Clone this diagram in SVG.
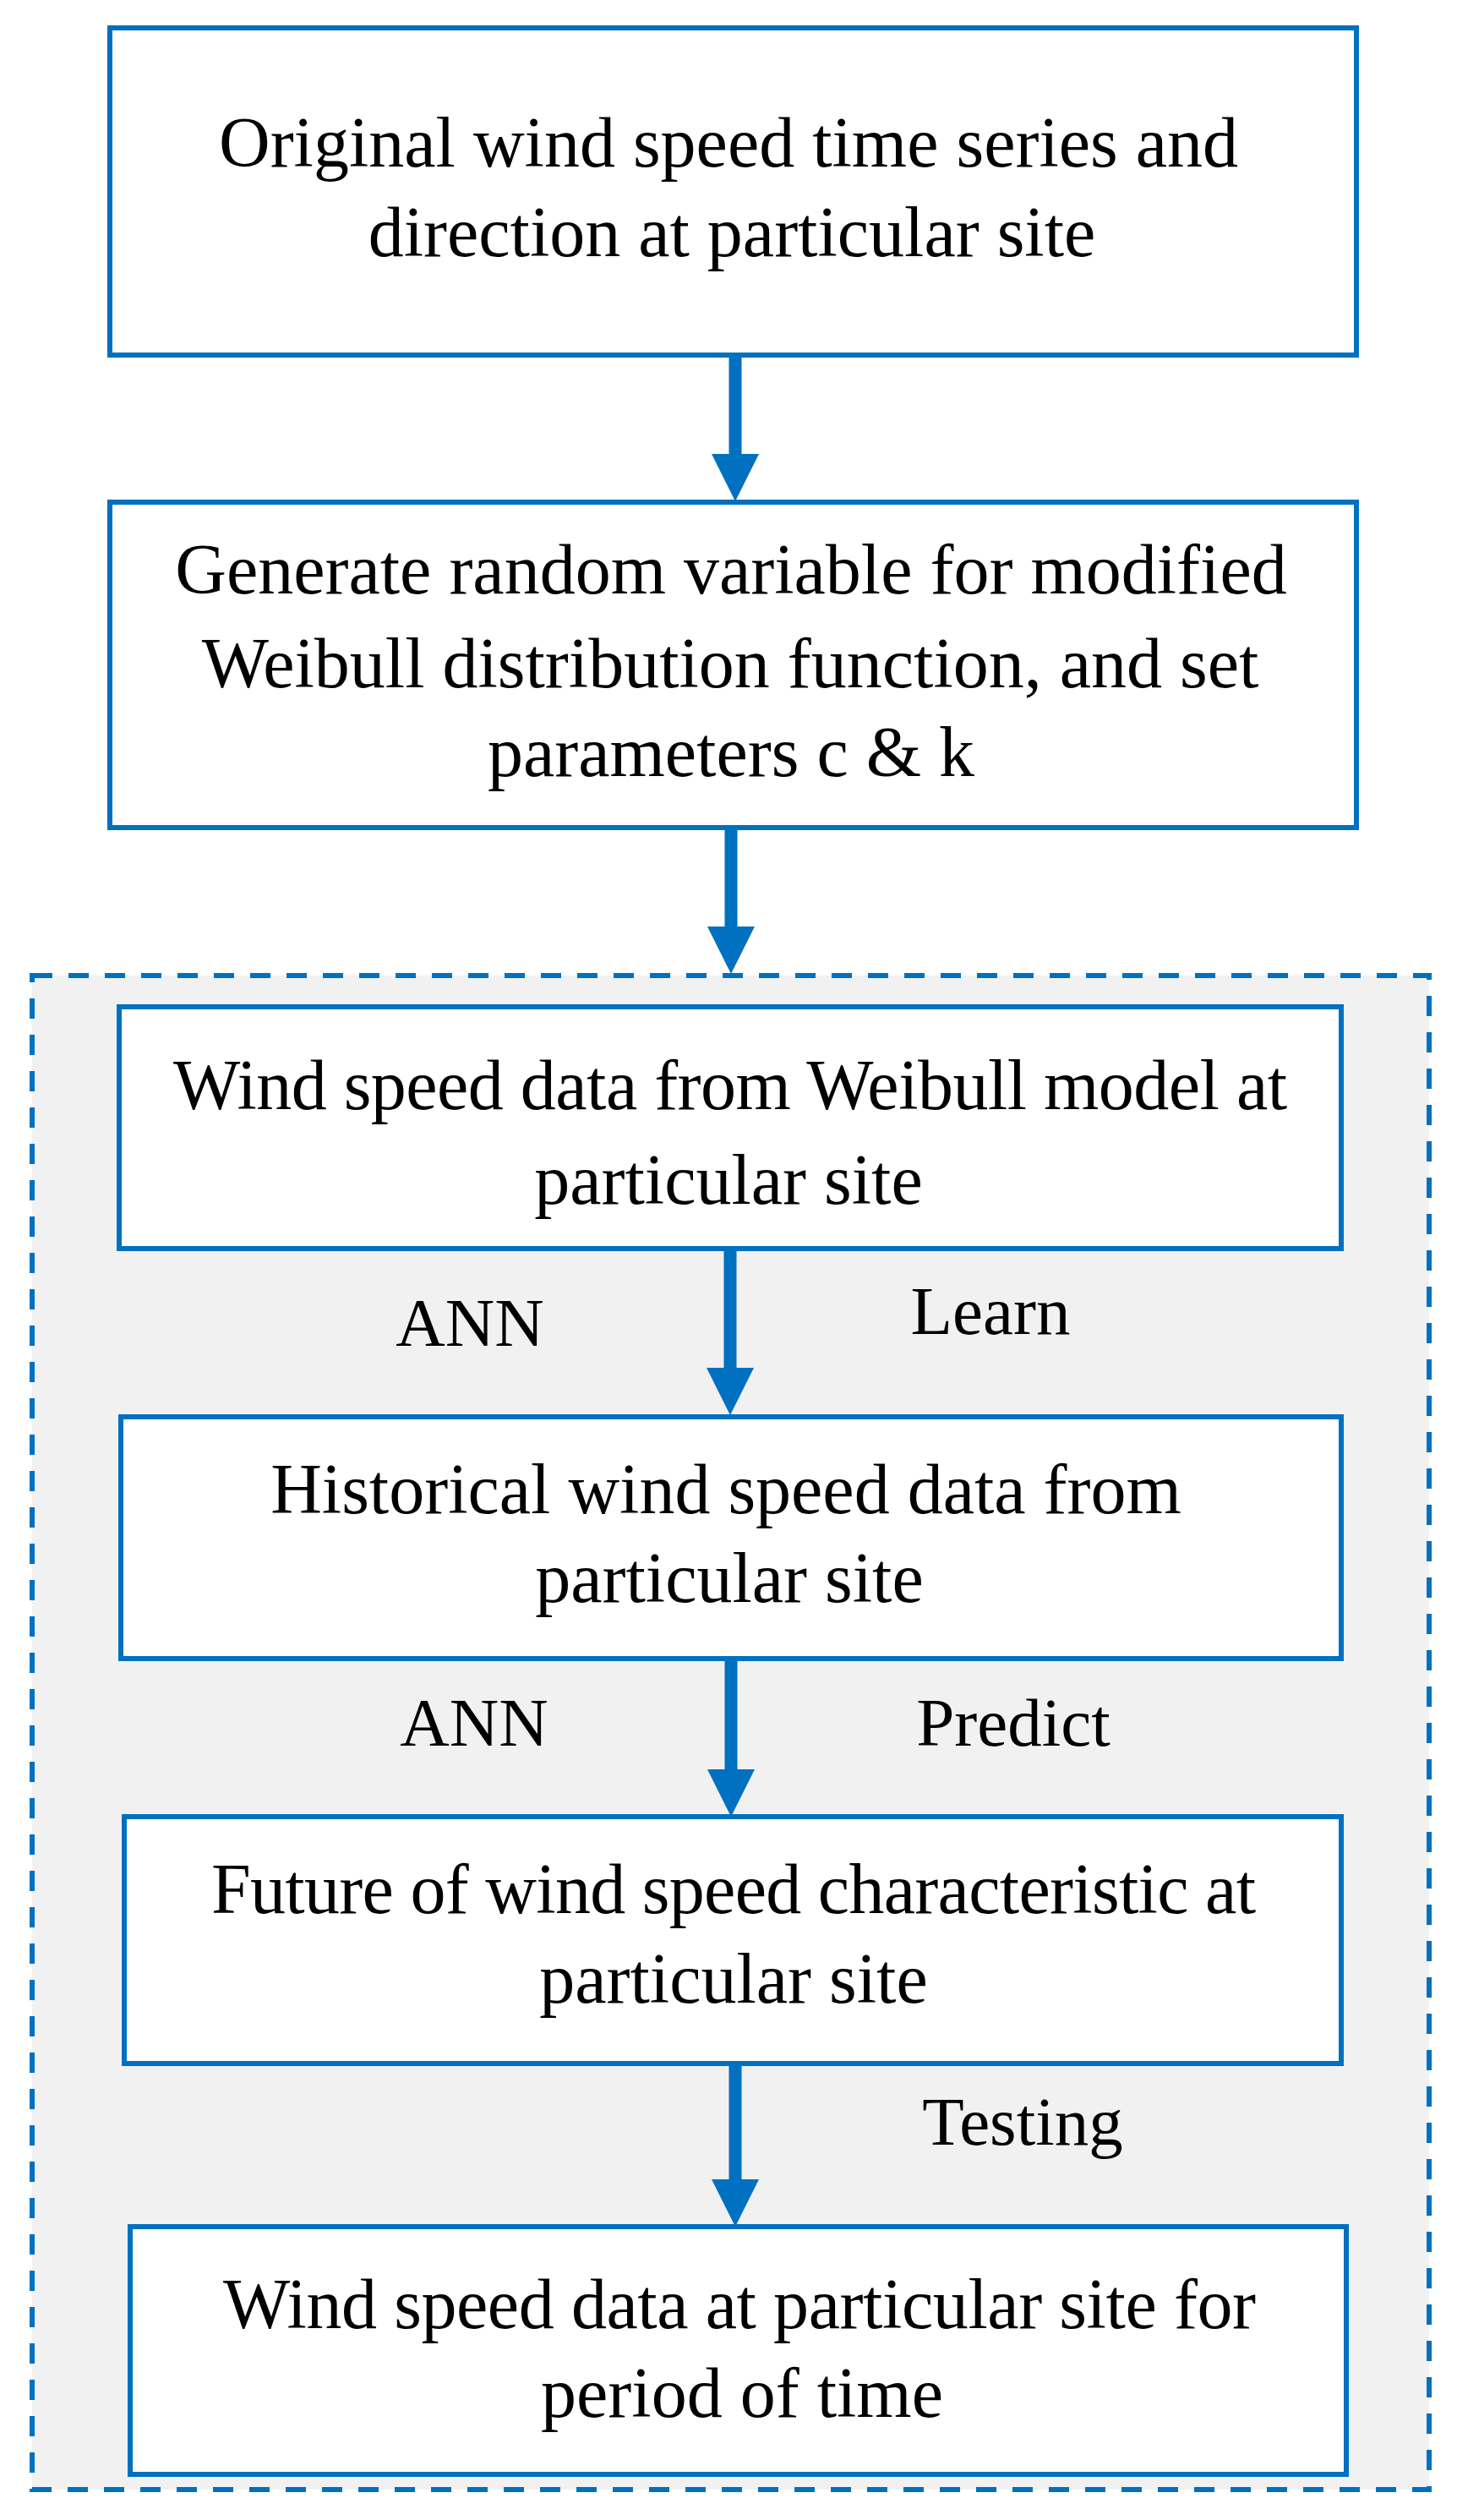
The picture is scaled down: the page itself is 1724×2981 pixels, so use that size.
<svg xmlns="http://www.w3.org/2000/svg" width="1724" height="2981" viewBox="0 0 1724 2981">
<style>
.box{fill:#ffffff;stroke:#0070c0;stroke-width:6}
.grp{fill:#f1f1f1;stroke:#0070c0;stroke-width:6;stroke-dasharray:24 19}
.t{font-family:"Liberation Serif","Times New Roman",serif;font-size:84px;fill:#000;text-anchor:middle}
.lbl{font-family:"Liberation Serif","Times New Roman",serif;font-size:81px;fill:#000;text-anchor:middle}
.conn{stroke:#0070c0;stroke-width:15;fill:none;marker-end:url(#ah)}
</style>
<defs>
<marker id="ah" markerUnits="userSpaceOnUse" markerWidth="56" markerHeight="56" viewBox="0 0 56 56" refX="0" refY="28" orient="auto">
<path d="M0,0 L56,28 L0,56 z" fill="#0070c0"/>
</marker>
</defs>
<rect width="1724" height="2981" fill="#ffffff"/>
<g id="container">
<rect class="grp" x="38" y="1154" width="1653" height="1791"/>
</g>
<g id="connectors">
<line class="conn" x1="870" y1="423" x2="870" y2="537"/>
<line class="conn" x1="865" y1="982" x2="865" y2="1096"/>
<line class="conn" x1="864" y1="1480" x2="864" y2="1618"/>
<line class="conn" x1="865" y1="1965" x2="865" y2="2093"/>
<line class="conn" x1="870" y1="2444" x2="870" y2="2578"/>
<text class="lbl" x="556" y="1592">ANN</text>
<text class="lbl" x="1172" y="1578">Learn</text>
<text class="lbl" x="561" y="2065">ANN</text>
<text class="lbl" x="1199" y="2065">Predict</text>
<text class="lbl" x="1210" y="2537">Testing</text>
</g>
<g id="node1">
<rect class="box" x="130" y="33" width="1475" height="387"/>
<text class="t" x="862" y="197">Original wind speed time series and</text>
<text class="t" x="866" y="303">direction at particular site</text>
</g>
<g id="node2">
<rect class="box" x="130" y="594" width="1475" height="385"/>
<text class="t" x="865" y="702">Generate random variable for modified</text>
<text class="t" x="864" y="813">Weibull distribution function, and set</text>
<text class="t" x="865" y="918">parameters c &amp; k</text>
</g>
<g id="node3">
<rect class="box" x="141" y="1191" width="1446" height="286"/>
<text class="t" x="864" y="1312" textLength="1318" lengthAdjust="spacing">Wind speed data from Weibull model at</text>
<text class="t" x="862" y="1424">particular site</text>
</g>
<g id="node4">
<rect class="box" x="143" y="1676" width="1444" height="286"/>
<text class="t" x="859" y="1790">Historical wind speed data from</text>
<text class="t" x="863" y="1895">particular site</text>
</g>
<g id="node5">
<rect class="box" x="147" y="2149" width="1440" height="292"/>
<text class="t" x="868" y="2263" textLength="1236" lengthAdjust="spacing">Future of wind speed characteristic at</text>
<text class="t" x="868" y="2369">particular site</text>
</g>
<g id="node6">
<rect class="box" x="154" y="2634" width="1439" height="293"/>
<text class="t" x="875" y="2754" textLength="1222" lengthAdjust="spacing">Wind speed data at particular site for</text>
<text class="t" x="878" y="2859">period of time</text>
</g>
</svg>
